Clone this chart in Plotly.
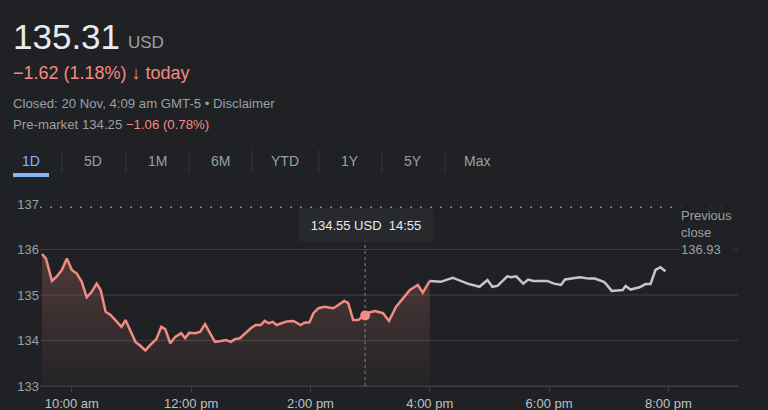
import plotly.graph_objects as go

# ---------------- data ----------------
DAY = "2023-11-17 "
reg_times = ["09:30", "09:34", "09:40", "09:45", "09:50", "09:55", "10:00", "10:05", "10:10", "10:15",
             "10:20", "10:25", "10:29", "10:34", "10:39", "10:45", "10:50", "10:54", "10:58", "11:04",
             "11:08", "11:14", "11:18", "11:22", "11:25", "11:30", "11:34", "11:39", "11:44", "11:50",
             "11:54", "11:58", "12:04", "12:09", "12:14", "12:19", "12:24", "12:30", "12:35", "12:40",
             "12:44", "12:49", "12:55", "13:00", "13:05", "13:10", "13:14", "13:18", "13:22", "13:26",
             "13:31", "13:36", "13:43", "13:50", "13:54", "13:59", "14:03", "14:08", "14:14", "14:23",
             "14:28", "14:34", "14:38", "14:43", "14:48", "14:55", "14:58", "15:05", "15:13", "15:19",
             "15:26", "15:40", "15:48", "15:53", "16:00"]
reg_prices = [135.90, 135.80, 135.31, 135.41, 135.55, 135.80, 135.55, 135.47, 135.29, 134.95,
              135.07, 135.25, 135.11, 134.63, 134.56, 134.41, 134.30, 134.45, 134.27, 133.97,
              133.90, 133.78, 133.88, 133.97, 134.03, 134.30, 134.25, 133.94, 134.08, 134.16,
              134.05, 134.17, 134.16, 134.19, 134.36, 134.16, 133.97, 133.99, 134.01, 133.97,
              134.03, 134.05, 134.16, 134.27, 134.34, 134.34, 134.43, 134.38, 134.41, 134.34,
              134.38, 134.42, 134.43, 134.34, 134.39, 134.40, 134.60, 134.71, 134.74, 134.71,
              134.78, 134.87, 134.82, 134.45, 134.45, 134.55, 134.61, 134.65, 134.60, 134.43,
              134.74, 135.11, 135.22, 135.05, 135.31]

ah_times = ["16:00", "16:11", "16:23", "16:38", "16:50", "16:58", "17:03", "17:08", "17:18", "17:22",
            "17:27", "17:34", "17:39", "17:44", "17:58", "18:05", "18:12", "18:16", "18:31", "18:40",
            "18:46", "18:55", "18:57", "19:03", "19:14", "19:17", "19:22", "19:31", "19:37", "19:42",
            "19:47", "19:52", "19:57"]
ah_prices = [135.31, 135.29, 135.38, 135.25, 135.18, 135.33, 135.18, 135.20, 135.41, 135.39,
             135.41, 135.25, 135.34, 135.31, 135.31, 135.25, 135.22, 135.34, 135.39, 135.36,
             135.36, 135.29, 135.25, 135.09, 135.11, 135.20, 135.12, 135.17, 135.24, 135.24,
             135.55, 135.61, 135.52]

prev_close = 136.93
hover_time = "14:55"
hover_price = 134.55

y_ticks = [133, 134, 135, 136, 137]
x_tick_times = ["10:00", "12:00", "14:00", "16:00", "18:00", "20:00"]
x_tick_text = ["10:00 am", "12:00 pm", "2:00 pm", "4:00 pm", "6:00 pm", "8:00 pm"]
tabs = ["1D", "5D", "1M", "6M", "YTD", "1Y", "5Y", "Max"]

# ---------------- layout helpers ----------------
W, H = 768, 410
L, R, T, B = 40, 30, 204, 24
PW, PH = W - L - R, H - T - B


def xp(px):
    return (px - L) / PW


def yp(py):
    return (H - B - py) / PH


BG = "#202124"
GRID = "#3c4043"
GREY = "#9aa0a6"
RED = "#f28b82"
FONT = "Liberation Sans, Arial, sans-serif"

fig = go.Figure()

fig.add_trace(go.Scatter(
    x=[DAY + t for t in reg_times], y=reg_prices, mode="lines",
    line=dict(color=RED, width=2.5), fill="tozeroy",
    fillgradient=dict(type="vertical", start=133, stop=136,
                      colorscale=[[0, "rgba(242,139,130,0.02)"], [1, "rgba(242,139,130,0.24)"]]),
    hoverinfo="skip", showlegend=False))

fig.add_trace(go.Scatter(
    x=[DAY + t for t in ah_times], y=ah_prices, mode="lines",
    line=dict(color="#c4c7ca", width=2.5), hoverinfo="skip", showlegend=False))

fig.add_trace(go.Scatter(
    x=[DAY + hover_time], y=[hover_price], mode="markers",
    marker=dict(color=RED, size=10), hoverinfo="skip", showlegend=False))

# gridlines (137 is replaced by the dotted previous-close line)
for v in y_ticks[:-1]:
    fig.add_shape(type="line", xref="paper", x0=0, x1=1, yref="y", y0=v, y1=v,
                  line=dict(color=GRID, width=1), layer="below")
fig.add_shape(type="line", xref="paper", x0=0, x1=0.995, yref="y", y0=prev_close, y1=prev_close,
              line=dict(color="#80868b", width=1.5, dash="2px,8px"), layer="below")
# crosshair
fig.add_shape(type="line", xref="x", x0=DAY + hover_time, x1=DAY + hover_time,
              yref="paper", y0=0, y1=yp(241),
              line=dict(color="#80868b", width=1, dash="dot"), layer="below")

ann = []
ann.append(dict(x=xp(298), y=yp(225), xref="paper", yref="paper", xanchor="left", yanchor="middle",
                text="134.55 USD  14:55", showarrow=False, width=134, height=32, bgcolor="#28292c",
                borderpad=0, font=dict(size=13, color="#e8eaed", family=FONT)))
ann.append(dict(x=xp(679), y=yp(232), xref="paper", yref="paper", xanchor="left", yanchor="middle",
                text="Previous<br>close<br>136.93", showarrow=False, align="left", bgcolor=BG,
                borderpad=1, font=dict(size=13, color=GREY, family=FONT)))

# header
ann.append(dict(x=xp(11), y=yp(36), xref="paper", yref="paper", xanchor="left", yanchor="middle",
                text="135.31", showarrow=False, font=dict(size=35, color="#e8eaed", family=FONT)))
ann.append(dict(x=xp(126), y=yp(42), xref="paper", yref="paper", xanchor="left", yanchor="middle",
                text="USD", showarrow=False, font=dict(size=17, color=GREY, family=FONT)))
ann.append(dict(x=xp(11), y=yp(73), xref="paper", yref="paper", xanchor="left", yanchor="middle",
                text="\u22121.62 (1.18%) <b>\u2193</b> today", showarrow=False,
                font=dict(size=18, color=RED, family=FONT)))
ann.append(dict(x=xp(11), y=yp(103), xref="paper", yref="paper", xanchor="left", yanchor="middle",
                text="Closed: 20 Nov, 4:09 am GMT-5 \u2022 Disclaimer", showarrow=False,
                font=dict(size=13.2, color=GREY, family=FONT)))
ann.append(dict(x=xp(11), y=yp(124), xref="paper", yref="paper", xanchor="left", yanchor="middle",
                text="Pre-market 134.25 <span style='color:%s'>\u22121.06 (0.78%%)</span>" % RED,
                showarrow=False, font=dict(size=13.2, color=GREY, family=FONT)))

# tabs
tab_centers = [31, 93, 157, 220, 285, 350, 413, 477]
for name, cx in zip(tabs, tab_centers):
    ann.append(dict(x=xp(cx), y=yp(161), xref="paper", yref="paper", xanchor="center", yanchor="middle",
                    text=name, showarrow=False,
                    font=dict(size=14, color="#8ab4f8" if name == "1D" else GREY, family=FONT)))
for sx in [62, 126, 189, 252, 319, 382, 445]:
    fig.add_shape(type="line", xref="paper", yref="paper", x0=xp(sx), x1=xp(sx), y0=yp(150), y1=yp(173),
                  line=dict(color="#35363a", width=1))
fig.add_shape(type="rect", xref="paper", yref="paper", x0=xp(13), x1=xp(49), y0=yp(177), y1=yp(173),
              fillcolor="#8ab4f8", line=dict(width=0))

fig.update_layout(
    width=W, height=H, margin=dict(l=L, r=R, t=T, b=B, autoexpand=False),
    paper_bgcolor=BG, plot_bgcolor=BG, hovermode=False, showlegend=False,
    annotations=ann,
    xaxis=dict(type="date", range=[DAY + "09:28", DAY + "21:10"],
               tickvals=[DAY + t for t in x_tick_times], ticktext=x_tick_text,
               showgrid=False, zeroline=False, showline=True, linecolor=GRID, linewidth=1,
               ticks="outside", ticklen=5, tickcolor=GRID,
               tickfont=dict(size=13, color="#bdc1c6", family=FONT), fixedrange=True),
    yaxis=dict(range=[133, 137], tickvals=y_ticks, showgrid=False, zeroline=False, showline=False,
               ticks="", tickfont=dict(size=13, color=GREY, family=FONT), fixedrange=True),
)

fig.write_html("out.html", config={"displayModeBar": False})
